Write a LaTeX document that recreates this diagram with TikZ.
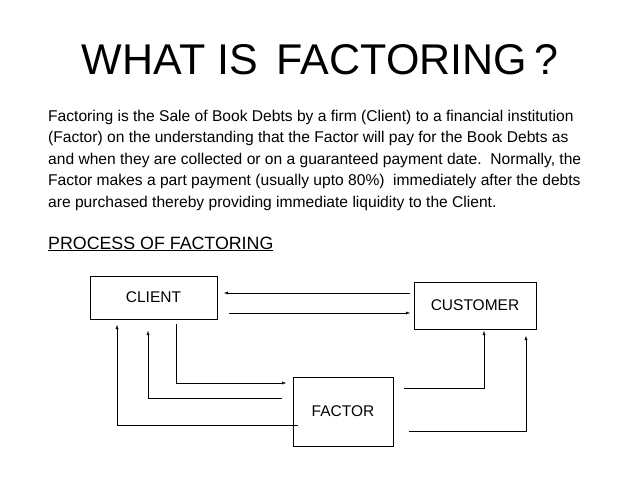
\documentclass[tikz,border=0pt]{standalone}
\usepackage{fontspec}
\setmainfont{Liberation Sans}
\usetikzlibrary{arrows.meta}
\tikzset{box/.style={draw, semithick, inner sep=0pt, font=\fontsize{15.5}{18}\selectfont},
         line/.style={thin, -{Latex[length=4pt,width=3pt]}},
         txt/.style={anchor=base west, inner sep=0pt, font=\fontsize{15.6}{18}\selectfont}}

\begin{document}
\begin{tikzpicture}[x=1pt,y=-1pt]
        \useasboundingbox (0,0) rectangle (638,479);
        
        % Title and text
        \node (title) at (320,60) {\fontsize{43}{48}\selectfont WHAT IS\, FACTORING\,?};
        \node[txt] (l1) at (48,121) {Factoring is the Sale of Book Debts by a firm (Client) to a financial institution};
        \node[txt] (l2) at (48,142.5) {(Factor) on the understanding that the Factor will pay for the Book Debts as};
        \node[txt] (l3) at (48,164) {and when they are collected or on a guaranteed payment date.\ \ Normally, the};
        \node[txt] (l4) at (48,185.5) {Factor makes a part payment (usually upto 80\%)\ \ immediately after the debts};
        \node[txt] (l5) at (48,207) {are purchased thereby providing immediate liquidity to the Client.};
        \node[anchor=base west, inner sep=0pt, font=\fontsize{17.8}{20}\selectfont] (head) at (48,249) {\underline{PROCESS OF FACTORING}};
        
        % Boxes
        \node[box, minimum width=127pt, minimum height=43pt] (client) at (153.5,297.5) {CLIENT};
        \node[box, minimum width=122pt, minimum height=47pt] (customer) at (475,305.5) {CUSTOMER};
        \node[box, minimum width=100pt, minimum height=69pt] (factor) at (343,411.5) {FACTOR};
        
        % Connector ends
        \coordinate (a1) at (410,293);  \coordinate (a2) at (224,293);
        \coordinate (b1) at (229,313);  \coordinate (b2) at (410,313);
        \coordinate (c1) at (176,324);  \coordinate (c2) at (286,383);
        \coordinate (d1) at (282,398);  \coordinate (d2) at (148,331);
        \coordinate (e1) at (298,425);  \coordinate (e2) at (117,325);
        \coordinate (f1) at (404,388);  \coordinate (f2) at (484,331);
        \coordinate (g1) at (409,431);  \coordinate (g2) at (526,336);
        
        \draw[line] (a1) -- (a2);
        \draw[line] (b1) -- (b2);
        \draw[line] (c1) |- (c2);
        \draw[line] (d1) -| (d2);
        \draw[line] (e1) -| (e2);
        \draw[line] (f1) -| (f2);
        \draw[line] (g1) -| (g2);
        
\end{tikzpicture}
\end{document}
